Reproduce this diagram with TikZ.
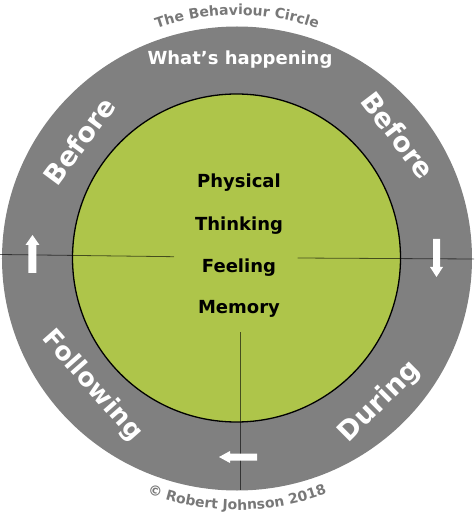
\documentclass[tikz,border=0pt]{standalone}
\usepackage{fontspec}
\setmainfont{DejaVu Sans}
\usetikzlibrary{decorations.text}
\definecolor{ringgray}{RGB}{128,128,128}
\definecolor{leafgreen}{RGB}{174,197,74}
\definecolor{titlegray}{RGB}{120,120,120}
\tikzset{
  ringword/.style={text=white, font=\bfseries\fontsize{27}{27}\selectfont, inner sep=0pt},
  topword/.style={text=white, font=\bfseries\fontsize{18}{18}\selectfont, inner sep=0pt, anchor=base},
  coreword/.style={text=black, font=\bfseries\fontsize{18}{18}\selectfont, inner sep=0pt, anchor=base},
  divider/.style={draw=black, opacity=0.6, line width=0.8pt},
  blockarrow/.style={fill=white, draw=none},
}
\begin{document}
\begin{tikzpicture}[x=1pt,y=1pt]
\useasboundingbox (-237,-256) rectangle (237,258);
% rings
\fill[ringgray] (0,-0.5) ellipse [x radius=235, y radius=232];
\filldraw[fill=leafgreen, draw=black, line width=1.3pt] (-0.5,0) circle [radius=164];
% dividers
\coordinate (l1) at (-237,3.5); \coordinate (l2) at (-63,1.3);
\coordinate (r1) at (60.7,0); \coordinate (r2) at (237,-1);
\coordinate (v1) at (3.5,-74); \coordinate (v2) at (3.5,-232);
\draw[divider] (l1) -- (l2);
\draw[divider] (r1) -- (r2);
\draw[divider] (v1) -- (v2);
% arrows
\fill[blockarrow] (-204.5,23) -- (-197.5,13) -- (-200.5,13) -- (-200.5,-15) -- (-208.5,-15) -- (-208.5,13) -- (-211.5,13) -- cycle;
\fill[blockarrow] (199.5,-19) -- (206,-9) -- (203,-9) -- (203,19) -- (196,19) -- (196,-9) -- (193,-9) -- cycle;
\fill[blockarrow] (-18,-199) -- (-7,-193) -- (-7,-195.5) -- (20,-195.5) -- (20,-202.5) -- (-7,-202.5) -- (-7,-205) -- cycle;
% ring words
\node[topword] (happening) at (3,193) {What’s happening};
\node[ringword, rotate=53.5] (beforeL) at (-158,117) {Before};
\node[ringword, rotate=-52.6] (beforeR) at (161,123) {Before};
\node[ringword, rotate=-48.6, font=\bfseries\fontsize{25.5}{25.5}\selectfont] (following) at (-145,-128) {Following};
\node[ringword, rotate=44.8] (during) at (143,-144) {During};
% core words
\node[coreword] (physical) at (2,70) {Physical};
\node[coreword] (thinking) at (2,27) {Thinking};
\node[coreword] (feeling) at (2,-14) {Feeling};
\node[coreword] (memory) at (2,-55) {Memory};
% curved titles
\path[decorate, decoration={text along path, text align=center,
  text={|\bfseries\fontsize{14}{14}\selectfont\color{titlegray}|The Behaviour Circle}}]
  (135:243) arc[start angle=135, end angle=45, radius=243];
\path[decorate, decoration={text along path, text align=center,
  text={|\bfseries\fontsize{14}{14}\selectfont\color{titlegray}|© Robert Johnson 2018}}]
  (225:252) arc[start angle=225, end angle=315, radius=252];
\end{tikzpicture}
\end{document}
